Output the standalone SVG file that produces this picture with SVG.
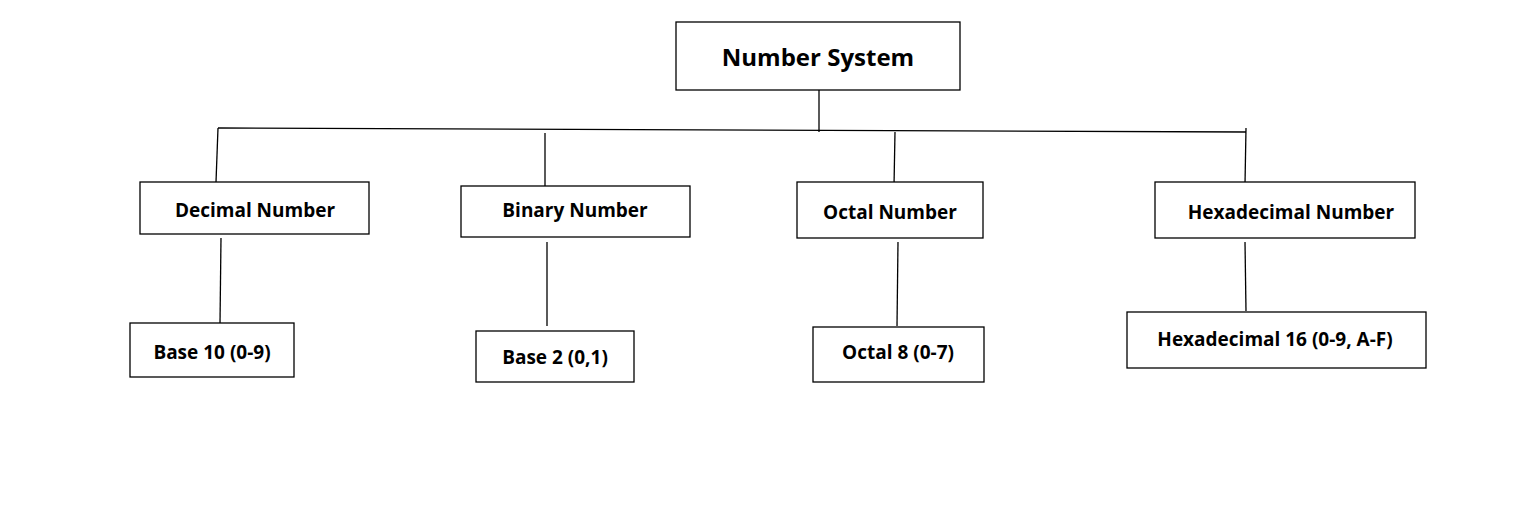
<svg xmlns="http://www.w3.org/2000/svg" width="1536" height="512" viewBox="0 0 1536 512">
<style>
rect{fill:#fff;stroke:#000;stroke-width:1.3}
text{font-family:"Open Sans","Liberation Sans",sans-serif;font-weight:bold;fill:#000;text-anchor:middle;dominant-baseline:central;font-size:19px}
line{stroke:#000;stroke-width:1.3}
</style>
<rect width="1536" height="512" style="fill:#fff;stroke:none"/>
<g id="connectors">
<line x1="819" y1="90" x2="819" y2="132"/>
<line x1="218" y1="128" x2="1246" y2="132"/>
<line x1="218" y1="128" x2="216" y2="182"/>
<line x1="545" y1="133" x2="545" y2="188"/>
<line x1="895" y1="132" x2="894" y2="186"/>
<line x1="1246" y1="128" x2="1245" y2="184"/>
<line x1="221" y1="238" x2="220" y2="323"/>
<line x1="547" y1="242" x2="547" y2="326"/>
<line x1="898" y1="242" x2="897" y2="326"/>
<line x1="1245" y1="242" x2="1246" y2="311"/>
</g>
<g id="root"><rect x="676" y="22" width="284" height="68"/><text x="818" y="56" style="font-size:24px">Number System</text></g>
<g id="decimal"><rect x="140" y="182" width="229" height="52"/><text x="255" y="210">Decimal Number</text></g>
<g id="binary"><rect x="461" y="186" width="229" height="51"/><text x="575" y="210">Binary Number</text></g>
<g id="octal"><rect x="797" y="182" width="186" height="56"/><text x="890" y="212">Octal Number</text></g>
<g id="hex"><rect x="1155" y="182" width="260" height="56"/><text x="1291" y="212">Hexadecimal Number</text></g>
<g id="base10"><rect x="130" y="323" width="164" height="54"/><text x="212" y="352">Base 10 (0-9)</text></g>
<g id="base2"><rect x="476" y="331" width="158" height="51"/><text x="555" y="357">Base 2 (0,1)</text></g>
<g id="octal8"><rect x="813" y="327" width="171" height="55"/><text x="898" y="352">Octal 8 (0-7)</text></g>
<g id="hex16"><rect x="1127" y="312" width="299" height="56"/><text x="1275" y="339">Hexadecimal 16 (0-9, A-F)</text></g>
</svg>
